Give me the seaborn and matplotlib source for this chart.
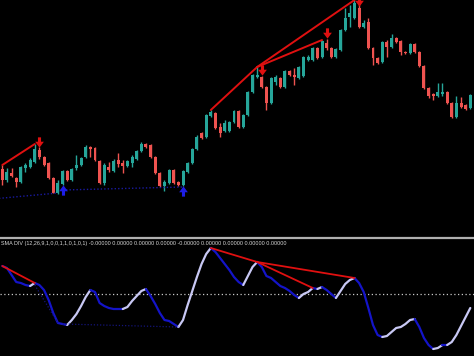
import matplotlib
matplotlib.use("Agg")
import matplotlib.pyplot as plt
from matplotlib.path import Path
import numpy as np
import pandas as pd
import seaborn as sns

# ---- data (price units are arbitrary chart points) -------------------------
opens = [67, 56, 63, 58, 54, 68, 69, 74, 86, 79, 73, 58, 43, 52, 65, 56, 68, 71, 79, 89,
         88, 75, 53, 69, 65, 76, 73, 70, 73, 77, 85, 92, 91, 79, 63, 50, 53, 66, 54, 51,
         64, 73, 87, 103, 99, 120, 123, 109, 105, 105, 114, 125, 109, 121, 144, 159, 159, 149, 133, 154,
         158, 149, 165, 161, 158, 160, 176, 176, 188, 179, 193, 188, 179, 186, 206, 219, 218, 228, 209, 214,
         188, 178, 174, 194, 189, 198, 195, 184, 183, 192, 184, 170, 148, 142, 140, 142, 144, 133, 119, 133,
         131, 128]
highs = [71, 68, 68, 59, 70, 73, 78, 92, 89, 80, 74, 59, 56, 66, 66, 68, 81, 79, 91, 90,
         89, 76, 73, 74, 77, 83, 76, 76, 81, 86, 94, 93, 92, 80, 64, 56, 67, 67, 55, 66,
         74, 88, 101, 104, 122, 126, 124, 113, 116, 115, 126, 126, 122, 145, 162, 169, 160, 150, 159, 161,
         159, 166, 166, 168, 170, 180, 181, 189, 189, 196, 197, 189, 188, 207, 228, 231, 236, 233, 216, 218,
         189, 179, 195, 196, 202, 199, 196, 185, 193, 193, 185, 171, 149, 143, 153, 153, 145, 134, 140, 139,
         132, 142]
lows = [51, 54, 59, 49, 53, 64, 68, 73, 77, 70, 57, 43, 42, 51, 55, 55, 66, 70, 78, 79,
        75, 52, 51, 64, 64, 69, 63, 69, 69, 76, 84, 88, 78, 62, 49, 45, 52, 52, 50, 50,
        63, 72, 86, 97, 98, 119, 107, 99, 104, 104, 113, 108, 108, 120, 143, 158, 148, 126, 132, 151,
        148, 148, 160, 151, 157, 159, 175, 175, 177, 178, 186, 178, 178, 185, 205, 209, 217, 208, 208, 187,
        171, 172, 173, 179, 188, 193, 181, 182, 182, 183, 169, 147, 138, 136, 139, 140, 132, 118, 118, 128,
        126, 127]
closes = [56, 64, 60, 54, 69, 71, 76, 87, 79, 71, 58, 43, 53, 65, 56, 67, 71, 78, 89, 87,
          76, 53, 71, 66, 75, 72, 70, 75, 79, 85, 92, 89, 79, 63, 50, 54, 66, 53, 51, 65,
          73, 87, 99, 98, 121, 124, 108, 103, 113, 114, 125, 109, 121, 144, 161, 161, 149, 133, 158, 159,
          149, 165, 161, 159, 169, 179, 179, 188, 178, 195, 188, 179, 187, 206, 218, 223, 233, 209, 213, 188,
          178, 173, 194, 189, 198, 194, 184, 183, 192, 184, 170, 148, 140, 140, 144, 144, 133, 119, 133, 129,
          127, 141]

# oscillator value per bar (zero = dotted line)
osc = [28, 26, 19, 12, 11, 9, 8, 11, 9, 4, -6, -19, -29, -30, -31, -26, -20, -12, -3, 4,
       2, -9, -12, -14, -15, -15, -15, -13, -7, -2, 3, 5, -2, -10, -19, -26, -27, -30, -33, -26,
       -11, 3, 17, 30, 40, 46, 42, 36, 30, 24, 17, 12, 9, 18, 27, 32, 27, 18, 16, 12,
       8, 6, 3, -1, -4, 0, 2, 6, 5, 7, 4, 0, -4, 3, 10, 14, 16, 11, 2, -14,
       -31, -41, -43, -42, -38, -34, -33, -30, -26, -25, -33, -44, -51, -55, -54, -51, -51, -48, -41, -32,
       -23, -14]

# divergence lines: (bar_from, bar_to) joining highs / oscillator peaks
price_div = [(0, 7), (45, 55), (55, 76), (55, 69)]
osc_div = [(0, 7), (45, 55), (55, 67), (55, 76)]
# support lines (dotted blue): bars and levels
sup_bars = [(-1, 12), (13, 39)]
sup_price = [(37.5, 43), (46, 49)]
osc_sup_bars = [(7, 12), (13, 38)]
osc_sup_vals = [(9, -29), (-30, -33)]
# signal arrows
sell_bars = [8, 56, 70, 77]
sell_price = [94, 166, 203, 235]
buy_bars = [13, 39]
buy_price = [46, 45]

label = ("SMA DIV (12,26,9,1,0,0,1,1,0,1,0,1) -0.00000 0.00000 0.00000 0.00000 "
         "-0.00000 0.00000 0.00000 0.00000 0.00000")

BULL, BEAR = "#26a69a", "#ef5350"
RISE, FALL = "#c8c8f4", "#1414c8"
RED = "#e01010"

sns.set_theme(style="dark", rc={"axes.facecolor": "black", "figure.facecolor": "black",
                                "axes.grid": False})

df = pd.DataFrame({"open": opens, "high": highs, "low": lows, "close": closes})
df["bar"] = np.arange(len(df))
df["color"] = np.where(df["close"] >= df["open"], BULL, BEAR)

fig = plt.figure(figsize=(4.74, 3.56), dpi=100)
ax = fig.add_axes([0, 120 / 356, 1, 236 / 356])
ax2 = fig.add_axes([0, 0, 1, 118 / 356])
xlim = (-0.5, 101.8)

# ---- price panel ----------------------------------------------------------
ax.vlines(df["bar"], df["low"], df["high"], colors=df["color"], lw=1)
body = (df["close"] - df["open"]).abs().clip(lower=1.2)
ax.bar(df["bar"], body, bottom=df[["open", "close"]].min(axis=1), width=0.64,
       color=df["color"], linewidth=0)

for a, b in price_div:
    ax.plot([a, b], [highs[a], highs[b]], color=RED, lw=1.4, solid_capstyle="round")
for (a, b), (pa, pb) in zip(sup_bars, sup_price):
    ax.plot([a, b], [pa, pb], color="#1a1aa0", lw=1, ls=(0, (1, 1.5)))

down = Path([(-0.3, 1), (0.3, 1), (0.3, 0.15), (0.85, 0.15), (0, -1), (-0.85, 0.15),
             (-0.3, 0.15), (-0.3, 1)], closed=True)
up = Path([(x, -y) for x, y in down.vertices], closed=True)
ax.scatter(sell_bars, sell_price, marker=down, s=55, color=RED, linewidths=0, zorder=5)
ax.scatter(buy_bars, buy_price, marker=up, s=55, color="#1e1ee6", linewidths=0, zorder=5)

ax.set_xlim(*xlim)
ax.set_ylim(0, 236)

# ---- oscillator panel -----------------------------------------------------
ax2.axhline(0, color="#c8c8c8", lw=0.9, ls=(0, (1, 2)))
vals = np.array(osc, dtype=float)
rising = np.diff(vals) > 0
start = 0
for i in range(1, len(rising) + 1):
    if i == len(rising) or rising[i] != rising[start]:
        seg = pd.DataFrame({"bar": np.arange(start, i + 1), "osc": vals[start:i + 1]})
        sns.lineplot(data=seg, x="bar", y="osc", ax=ax2, lw=1.6,
                     color=RISE if rising[start] else FALL, legend=False)
        start = i

for a, b in osc_div:
    ax2.plot([a, b], [osc[a], osc[b]], color=RED, lw=1.3)
for (a, b), (pa, pb) in zip(osc_sup_bars, osc_sup_vals):
    ax2.plot([a, b], [pa, pb], color="#14147a", lw=0.9, ls=(0, (1, 1.5)))

ax2.text(0.002, 0.955, label, transform=ax2.transAxes, fontsize=3.9, color="#d8d8d8",
         va="center", ha="left", family=["Liberation Sans", "DejaVu Sans"])
ax2.set_xlim(*xlim)
ax2.set_ylim(-62, 56)

for a_ in (ax, ax2):
    a_.set_xticks([]); a_.set_yticks([])
    a_.set_xlabel(""); a_.set_ylabel("")
    for s in a_.spines.values():
        s.set_visible(False)
ax2.spines["top"].set_visible(True)
ax2.spines["top"].set_color("#b0b0b0")
ax2.spines["top"].set_linewidth(1.6)

fig.savefig("out.png", dpi=100, facecolor="black")
